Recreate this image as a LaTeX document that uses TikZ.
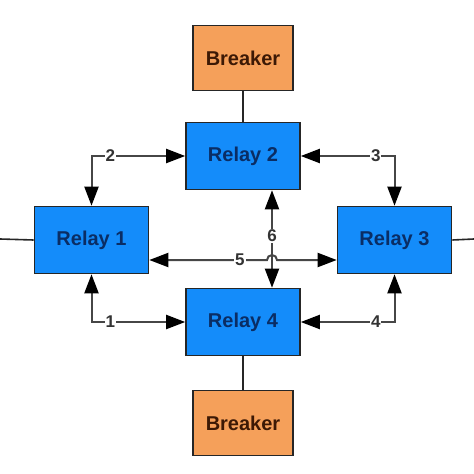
\documentclass[tikz,border=0pt]{standalone}
\usepackage{fontspec}
\setmainfont{Liberation Sans}
\usepackage{tikz}
\usetikzlibrary{
    arrows.meta,
    positioning,
    calc
}
\definecolor{relayblue}{RGB}{20,140,250}
\definecolor{relaytext}{RGB}{10,45,100}
\definecolor{breakerorange}{RGB}{245,160,90}
\definecolor{breakertext}{RGB}{60,25,5}
\definecolor{linkgray}{RGB}{70,70,70}
\tikzstyle{relay} = [
    rectangle,
    draw=black!85,
    line width=1.6pt,
    fill=relayblue,
    minimum width=114pt,
    minimum height=67pt,
    text=relaytext,
    font=\fontsize{20}{24}\selectfont\bfseries
]
\tikzstyle{breaker} = [
    rectangle,
    draw=black!85,
    line width=1.6pt,
    fill=breakerorange,
    minimum width=100pt,
    minimum height=65pt,
    text=breakertext,
    font=\fontsize{20}{24}\selectfont\bfseries
]
\tikzstyle{link} = [
    {Triangle[length=19pt,width=14pt,color=black]}-{Triangle[length=19pt,width=14pt,color=black]},
    line width=2pt,
    draw=linkgray
]
\tikzstyle{wire} = [
    line width=1.6pt,
    draw=black!85
]
\tikzstyle{lbl} = [
    fill=white,
    inner sep=1pt,
    text=black!80,
    font=\fontsize{17}{20}\selectfont\bfseries
]

\begin{document}
\begin{tikzpicture}[x=1pt, y=-1pt]
        \useasboundingbox (0,0) rectangle (474,474);

        % Breakers (top and bottom)
        \node[breaker] (btop) at (243,58) {Breaker};
        \node[breaker] (bbot) at (243,423) {Breaker};

        % Relays
        \node[relay] (r1) at (91.5,240) {Relay 1};
        \node[relay] (r2) at (243,156) {Relay 2};
        \node[relay] (r3) at (394.5,240) {Relay 3};
        \node[relay] (r4) at (243,322) {Relay 4};

        % Feeder ends
        \coordinate (lin) at (0,239);
        \coordinate (rin) at (474,239);

        % Plain connections
        \draw[wire] (lin) -- (r1.west);
        \draw[wire] (r3.east) -- (rin);
        \draw[wire] (btop) -- (r2);
        \draw[wire] (bbot) -- (r4);

        % Communication links
        \draw[link] (r1.north) |- node[lbl, pos=0.6] {2} (r2.west);
        \draw[link] (r1.south) |- node[lbl, pos=0.6] {1} (r4.west);
        \draw[link] (r2.east) -| node[lbl, pos=0.4] {3} (r3.north);
        \draw[link] (r4.east) -| node[lbl, pos=0.4] {4} (r3.south);
        \draw[link] ([xshift=29pt]r2.south) -- node[lbl, pos=0.47] {6} ([xshift=29pt]r4.north);

        % Link 5 hops over link 6
        \coordinate (l5) at ([yshift=-20pt]r1.east);
        \coordinate (hop) at ([xshift=29pt]r2.south |- l5);
        \draw[link] (l5) -- node[lbl, pos=0.77] {5} ([xshift=-5pt]hop)
            arc[start angle=180, end angle=0, radius=5pt]
            -- ([yshift=-20pt]r3.west);
    \end{tikzpicture}
\end{document}
